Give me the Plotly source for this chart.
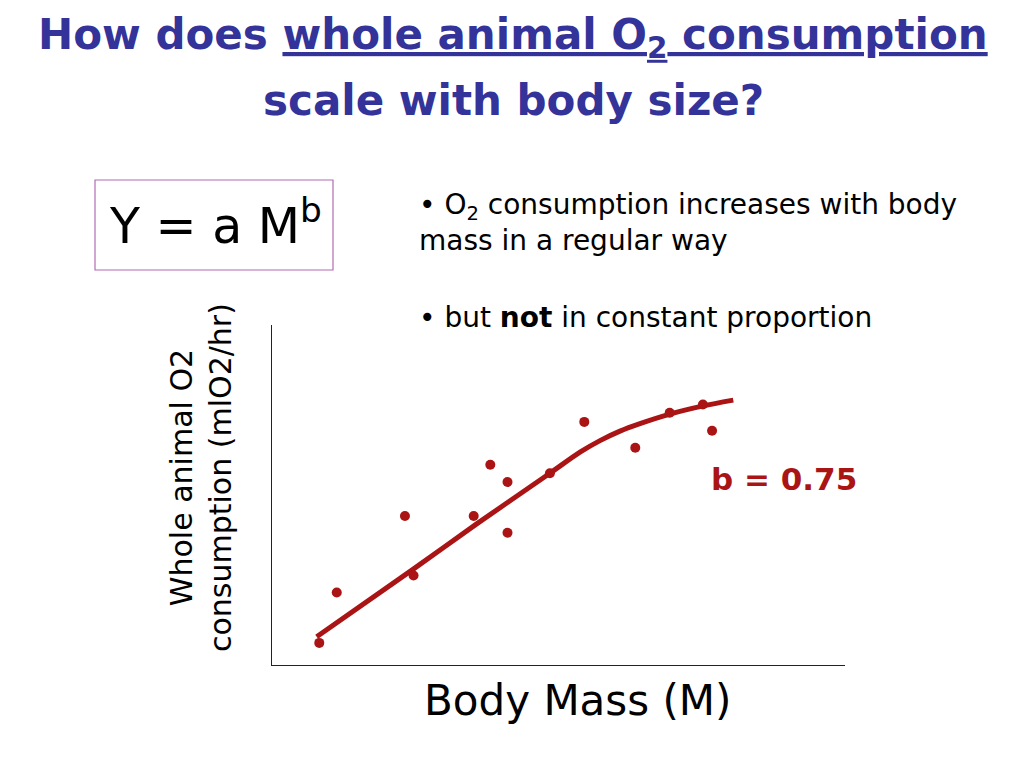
import plotly.graph_objects as go

# --- data (arbitrary units) ---
mass = [8.25, 11.3, 23.2, 24.7, 35.2, 38.1, 41.1, 41.1, 48.5, 54.5, 63.4, 69.4, 75.2, 76.8]
o2 = [6.5, 21.3, 43.8, 26.3, 43.8, 58.9, 53.8, 38.9, 56.4, 71.5, 63.9, 74.2, 76.6, 68.9]

fit_mass = [7.8, 24.66, 35.72, 48.5, 53.75, 57.24, 60.73, 64.22, 69.46, 75.27, 80.5]
fit_o2 = [8.3, 28.2, 41.5, 56.4, 62.6, 66.0, 68.8, 71.0, 73.8, 76.2, 77.9]

x_range = [0, 100]
y_range = [0, 100]

RED = "#AA1414"
BLUE = "#333399"
FONT = "DejaVu Sans"

fig = go.Figure()
fig.add_trace(go.Scatter(x=fit_mass, y=fit_o2, mode="lines",
                         line=dict(color=RED, width=5, shape="spline", smoothing=0.8),
                         hoverinfo="skip", showlegend=False))
fig.add_trace(go.Scatter(x=mass, y=o2, mode="markers",
                         marker=dict(color=RED, size=10),
                         showlegend=False))

W, H = 1024, 768
def px(xp):
    return xp / W
def py(yp):
    return 1 - yp / H

fig.update_layout(
    width=W, height=H,
    margin=dict(l=0, r=0, t=0, b=0),
    paper_bgcolor="white", plot_bgcolor="white",
    font=dict(family=FONT, color="black"),
    xaxis=dict(domain=[px(272), px(845)], range=x_range, showgrid=False, zeroline=False,
               showticklabels=False, ticks="", showline=True, linecolor="#222222", linewidth=1.2),
    yaxis=dict(domain=[py(665), py(325)], range=y_range, showgrid=False, zeroline=False,
               showticklabels=False, ticks="", showline=True, linecolor="#222222", linewidth=1.2),
)

ann = []
# title
ann.append(dict(text='<b>How does <span style="text-decoration:underline">whole animal O<sub>2</sub> consumption</span></b>',
                x=px(513), y=py(38), xref="paper", yref="paper", showarrow=False,
                font=dict(size=42, color=BLUE, family=FONT), xanchor="center", yanchor="middle"))
ann.append(dict(text="<b>scale with body size?</b>",
                x=px(513), y=py(100), xref="paper", yref="paper", showarrow=False,
                font=dict(size=42, color=BLUE, family=FONT), xanchor="center", yanchor="middle"))
# equation box text
ann.append(dict(text="Y = a M<sup>b</sup>", x=px(215), y=py(222), xref="paper", yref="paper",
                showarrow=False, font=dict(size=49, color="black", family=FONT),
                xanchor="center", yanchor="middle"))
# bullets
ann.append(dict(text="• O<sub>2</sub> consumption increases with body<br>mass in a regular way",
                x=px(417), y=py(223), xref="paper", yref="paper", showarrow=False, align="left",
                font=dict(size=28, color="black", family=FONT), xanchor="left", yanchor="middle"))
ann.append(dict(text="• but <b>not</b> in constant proportion",
                x=px(417), y=py(317), xref="paper", yref="paper", showarrow=False, align="left",
                font=dict(size=28, color="black", family=FONT), xanchor="left", yanchor="middle"))
# axis titles
ann.append(dict(text="Whole animal O2<br>consumption (mlO2/hr)", x=px(201), y=py(478),
                xref="paper", yref="paper", showarrow=False, textangle=-90,
                font=dict(size=30, color="black", family=FONT), xanchor="center", yanchor="middle"))
ann.append(dict(text="Body Mass (M)", x=px(577), y=py(700), xref="paper", yref="paper",
                showarrow=False, font=dict(size=42, color="black", family=FONT),
                xanchor="center", yanchor="middle"))
# exponent label
ann.append(dict(text="<b>b = 0.75</b>", x=px(784), y=py(479), xref="paper", yref="paper",
                showarrow=False, font=dict(size=31, color=RED, family=FONT),
                xanchor="center", yanchor="middle"))
fig.update_layout(annotations=ann)

fig.add_shape(type="rect", xref="paper", yref="paper",
              x0=px(95), x1=px(333), y0=py(270), y1=py(180),
              line=dict(color="#B36BB3", width=1.2))

fig.write_html("out.html")
